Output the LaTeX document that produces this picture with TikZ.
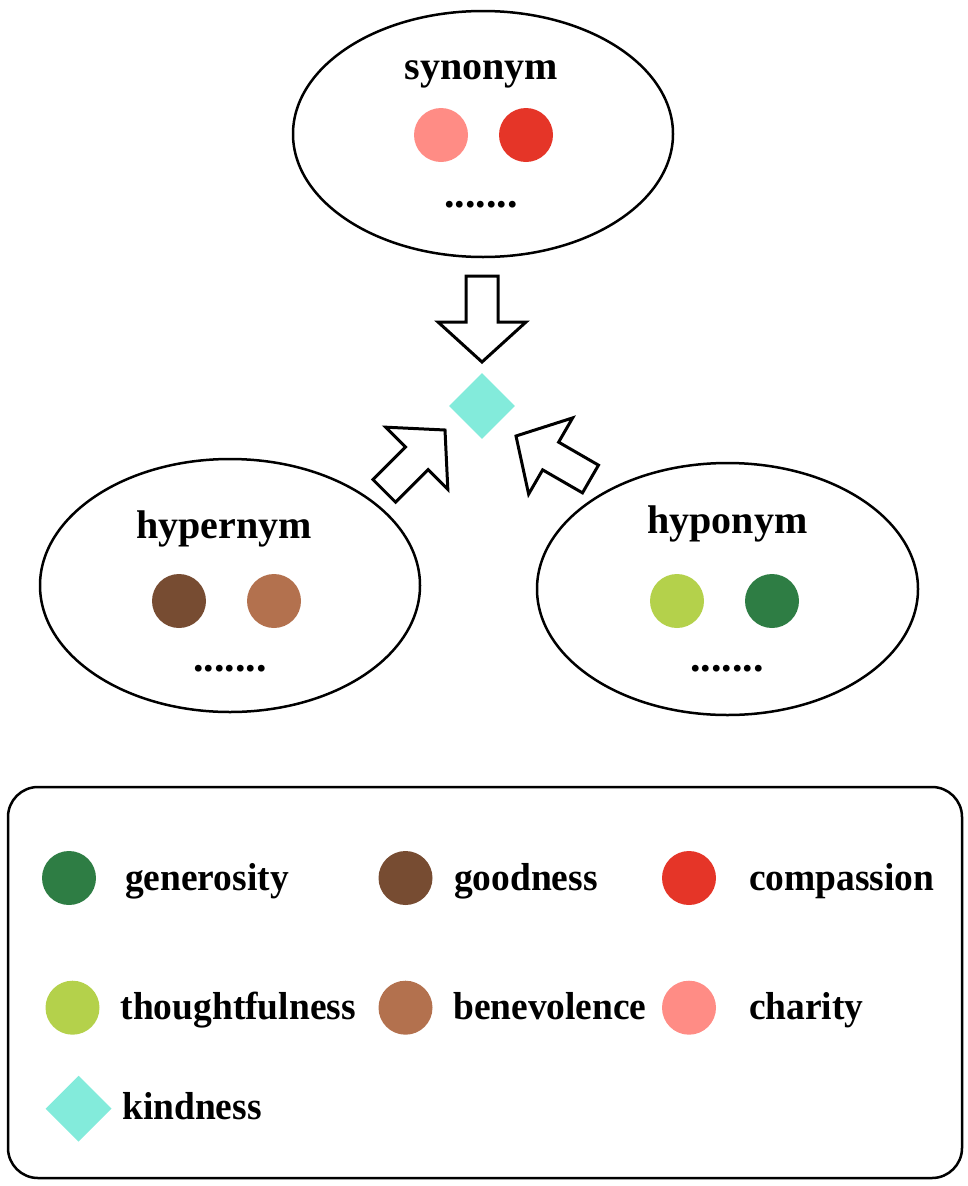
\documentclass[tikz,border=0pt]{standalone}
\usepackage{fontspec}
\setmainfont{Liberation Serif}
\newfontfamily\legfont[FakeStretch=0.96]{Liberation Serif}
\usetikzlibrary{shapes.geometric}
\definecolor{cCharity}{HTML}{FF8C85}
\definecolor{cCompassion}{HTML}{E53528}
\definecolor{cGoodness}{HTML}{774C32}
\definecolor{cBenevolence}{HTML}{B3714E}
\definecolor{cThought}{HTML}{B4D14B}
\definecolor{cGenerosity}{HTML}{2E7D44}
\definecolor{cKind}{HTML}{83EBDB}
\begin{document}
\begin{tikzpicture}[x=1pt,y=-1pt,
  bubble/.style={draw, ellipse, line width=2.5pt, inner sep=0pt},
  dotc/.style={circle, inner sep=0pt, minimum size=54pt},
  gem/.style={diamond, inner sep=0pt, minimum width=66pt, minimum height=66pt, fill=cKind},
  titletext/.style={font=\fontsize{40}{48}\selectfont\bfseries, anchor=base, inner sep=0pt},
  ellipsis/.style={font=\fontsize{42}{48}\selectfont\bfseries, anchor=base, inner sep=0pt},
  legtext/.style={font=\legfont\fontsize{39}{46}\selectfont\bfseries, anchor=base west, inner sep=0pt},
  arrowline/.style={draw=black, fill=white, line width=3pt, line join=miter},
  blockarrow/.pic={\path[arrowline] (0,0) -- (-40,44) -- (-40,16) -- (-86,16) -- (-86,-16) -- (-40,-16) -- (-40,-44) -- cycle;}
]
\useasboundingbox (0,0) rectangle (968,1186);

% synonym group
\node[bubble, minimum width=380pt, minimum height=246pt] (syn) at (483,134) {};
\node[titletext] (synT) at (481.5,79) {synonym};
\node[dotc, fill=cCharity] (synA) at (441,135) {};
\node[dotc, fill=cCompassion] (synB) at (526,135) {};
\node[ellipsis] (synD) at (481,207) {.......};

% hypernym group
\node[bubble, minimum width=380pt, minimum height=253pt] (hyper) at (230,585.5) {};
\node[titletext] (hyperT) at (224,538) {hypernym};
\node[dotc, fill=cGoodness] (hyperA) at (179,601) {};
\node[dotc, fill=cBenevolence] (hyperB) at (274,601) {};
\node[ellipsis] (hyperD) at (230,671) {.......};

% hyponym group
\node[bubble, minimum width=381pt, minimum height=252pt] (hypo) at (727.5,589) {};
\node[titletext] (hypoT) at (727.5,533) {hyponym};
\node[dotc, fill=cThought] (hypoA) at (677,601) {};
\node[dotc, fill=cGenerosity] (hypoB) at (772,601) {};
\node[ellipsis] (hypoD) at (727,671) {.......};

% centre
\node[gem] (kind) at (482,406) {};
\coordinate (tipS) at (482,362);
\coordinate (tipL) at (445,430);
\coordinate (tipR) at (516,436);
\path (tipS) pic[rotate=-90] {blockarrow};
\path (tipL) pic[rotate=45] {blockarrow};
\path (tipR) pic[rotate=150] {blockarrow};

% legend
\node[draw, rounded corners=30pt, line width=2.5pt, minimum width=954pt, minimum height=391pt, inner sep=0pt] (legend) at (485,982.5) {};
\node[dotc, fill=cGenerosity] (lg1) at (69,878) {};
\node[legtext] (lt1) at (125,890) {generosity};
\node[dotc, fill=cGoodness] (lg2) at (405.5,878) {};
\node[legtext] (lt2) at (454,890) {goodness};
\node[dotc, fill=cCompassion] (lg3) at (689,878) {};
\node[legtext] (lt3) at (749,890) {compassion};
\node[dotc, fill=cThought] (lg4) at (72.5,1007.7) {};
\node[legtext] (lt4) at (120.5,1019) {thoughtfulness};
\node[dotc, fill=cBenevolence] (lg5) at (405.5,1007.7) {};
\node[legtext] (lt5) at (453,1019) {benevolence};
\node[dotc, fill=cCharity] (lg6) at (689,1007.7) {};
\node[legtext] (lt6) at (749,1019) {charity};
\node[gem] (lg7) at (78.6,1108.7) {};
\node[legtext] (lt7) at (122,1119) {kindness};
\end{tikzpicture}
\end{document}
